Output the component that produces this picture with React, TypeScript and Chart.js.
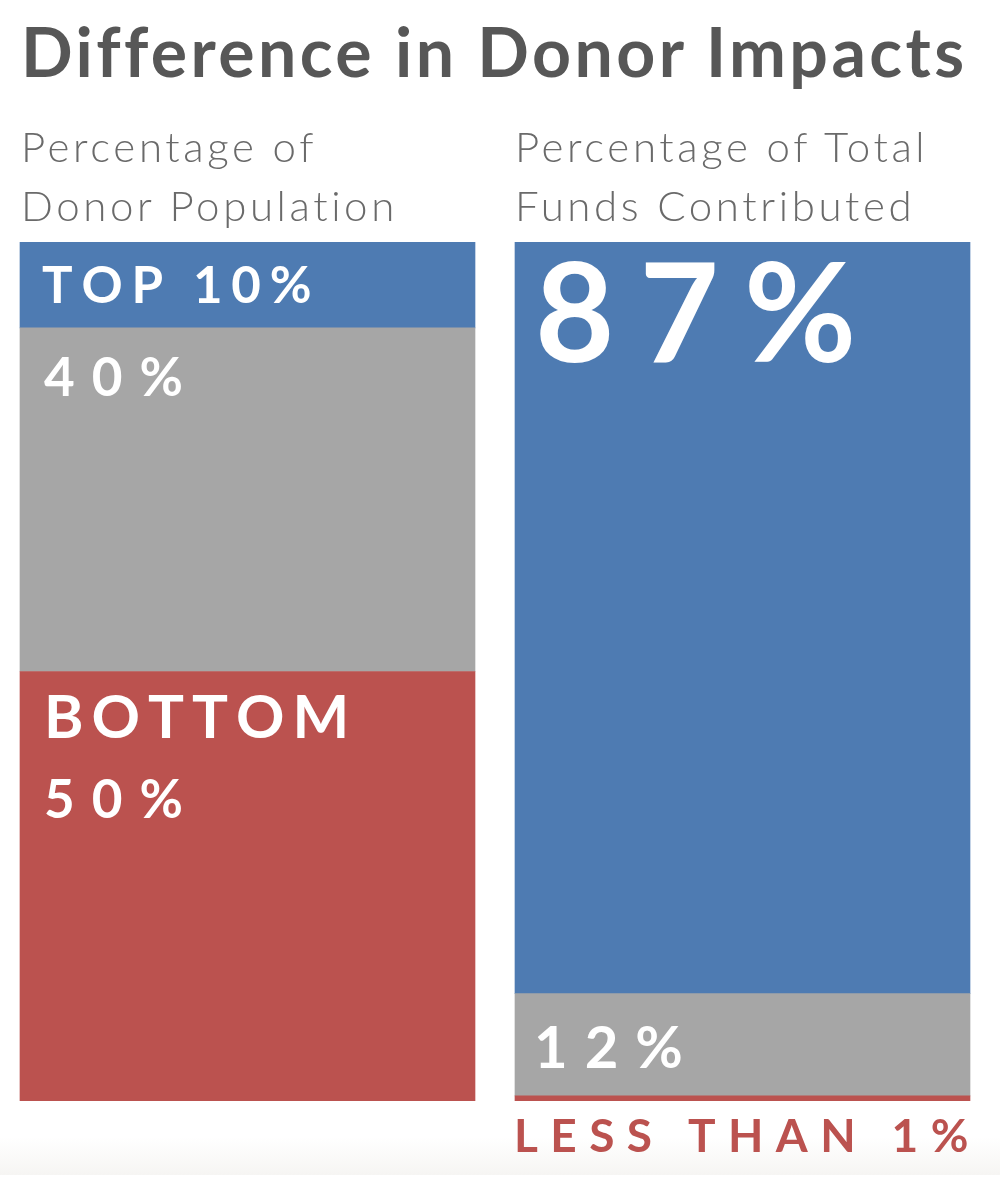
import React, { useEffect, useRef } from "react";
import { Chart, registerables } from "chart.js";

Chart.register(...registerables);

// ---- data ----
const categories = ["Percentage of Donor Population", "Percentage of Total Funds Contributed"];
const subtitleLines = [
  ["Percentage of", "Donor Population"],
  ["Percentage of Total", "Funds Contributed"],
];
const titleText = "Difference in Donor Impacts";
const segmentNames = ["Bottom 50%", "Middle 40%", "Top 10%"];
const bottomValues = [50, 0.6];
const middleValues = [40, 11.9];
const topValues = [10, 87.5];
// label lines per segment (dataset index order: bottom, middle, top), per category
const bottomLabels = [["BOTTOM", "50%"], ["LESS THAN 1%"]];
const middleLabels = [["40%"], ["12%"]];
const topLabels = [["TOP 10%"], ["87%"]];

const BLUE = "#4e7bb2";
const GRAY = "#a6a6a6";
const RED = "#bb524f";

type LineStyle = { size: number; spacing: number; dx: number; dy: number; color: string; below?: boolean };

// styles for each label line: [datasetIndex][categoryIndex][lineIndex]
const labelStyles: LineStyle[][][] = [
  [
    [
      { size: 60, spacing: 8, dx: 24, dy: 66, color: "#ffffff" },
      { size: 53, spacing: 17, dx: 24, dy: 146, color: "#ffffff" },
    ],
    [{ size: 46, spacing: 12.4, dx: -1, dy: 51, color: RED, below: true }],
  ],
  [
    [{ size: 53, spacing: 17, dx: 24, dy: 68, color: "#ffffff" }],
    [{ size: 58, spacing: 17, dx: 19, dy: 74, color: "#ffffff" }],
  ],
  [
    [{ size: 51, spacing: 8.8, dx: 22, dy: 61, color: "#ffffff" }],
    [{ size: 137, spacing: 25, dx: 20, dy: 120, color: "#ffffff" }],
  ],
];

const allLabels = [bottomLabels, middleLabels, topLabels];

function drawSpaced(ctx: CanvasRenderingContext2D, text: string, x: number, y: number, spacing: number) {
  let cx = x;
  for (const ch of text) {
    ctx.fillText(ch, cx, y);
    cx += ctx.measureText(ch).width + spacing;
  }
}

const labelPlugin = {
  id: "segmentLabels",
  afterDatasetsDraw(chart: any) {
    const ctx: CanvasRenderingContext2D = chart.ctx;
    ctx.save();
    ctx.textBaseline = "alphabetic";
    ctx.textAlign = "left";
    chart.data.datasets.forEach((_: any, di: number) => {
      const meta = chart.getDatasetMeta(di);
      meta.data.forEach((bar: any, ci: number) => {
        const props = bar.getProps(["x", "y", "base", "width"], true);
        const left = props.x - props.width / 2;
        const top = Math.min(props.y, props.base);
        const bottom = Math.max(props.y, props.base);
        const lines = allLabels[di][ci];
        lines.forEach((line: string, li: number) => {
          const st = labelStyles[di][ci][li];
          ctx.font = `700 ${st.size}px Lato, "DejaVu Sans", sans-serif`;
          ctx.fillStyle = st.color;
          const baseY = st.below ? bottom + st.dy : top + st.dy;
          drawSpaced(ctx, line, left + st.dx, baseY, st.spacing);
        });
      });
    });
    ctx.restore();
  },
};

export default function App() {
  const canvasRef = useRef<HTMLCanvasElement | null>(null);

  useEffect(() => {
    const canvas = canvasRef.current;
    if (!canvas) return;
    const chart = new Chart(canvas, {
      type: "bar",
      data: {
        labels: categories,
        datasets: [
          { label: segmentNames[0], data: bottomValues, backgroundColor: RED, borderWidth: 0, barThickness: 455 },
          { label: segmentNames[1], data: middleValues, backgroundColor: GRAY, borderWidth: 0, barThickness: 455 },
          { label: segmentNames[2], data: topValues, backgroundColor: BLUE, borderWidth: 0, barThickness: 455 },
        ],
      },
      options: {
        animation: false,
        responsive: false,
        maintainAspectRatio: false,
        devicePixelRatio: 1,
        layout: { padding: { top: 242, bottom: 89, left: 0, right: 10 } },
        plugins: {
          legend: { display: false },
          tooltip: { enabled: false },
          title: { display: false },
        },
        scales: {
          x: { stacked: true, display: false },
          y: { stacked: true, display: false, min: 0, max: 100 },
        },
      },
      plugins: [labelPlugin],
    });
    return () => chart.destroy();
  }, []);

  const subStyle: React.CSSProperties = {
    position: "absolute",
    top: 117,
    fontFamily: "Lato, sans-serif",
    fontWeight: 300,
    fontSize: 42,
    lineHeight: "59px",
    letterSpacing: "3.6px",
    color: "#6a6a6a",
    whiteSpace: "nowrap",
  };

  return (
    <div style={{ position: "absolute", top: 0, left: 0, width: 1000, height: 1190, background: "#ffffff", overflow: "hidden" }}>
      <div
        style={{
          position: "absolute",
          top: 1137,
          left: 0,
          width: 1000,
          height: 38,
          background: "linear-gradient(to bottom, #ffffff, #f6f5f3)",
        }}
      />
      <canvas ref={canvasRef} width={1000} height={1190} style={{ position: "absolute", top: 0, left: 0, width: 1000, height: 1190 }} />
      <div
        style={{
          position: "absolute",
          top: 17,
          left: 21,
          fontFamily: "Lato, sans-serif",
          fontWeight: 700,
          fontSize: 68,
          lineHeight: "68px",
          letterSpacing: "3.4px",
          color: "#575757",
          whiteSpace: "nowrap",
        }}
      >
        {titleText}
      </div>
      <div style={{ ...subStyle, left: 21 }}>
        {subtitleLines[0][0]}
        <br />
        {subtitleLines[0][1]}
      </div>
      <div style={{ ...subStyle, left: 515 }}>
        {subtitleLines[1][0]}
        <br />
        {subtitleLines[1][1]}
      </div>
    </div>
  );
}
